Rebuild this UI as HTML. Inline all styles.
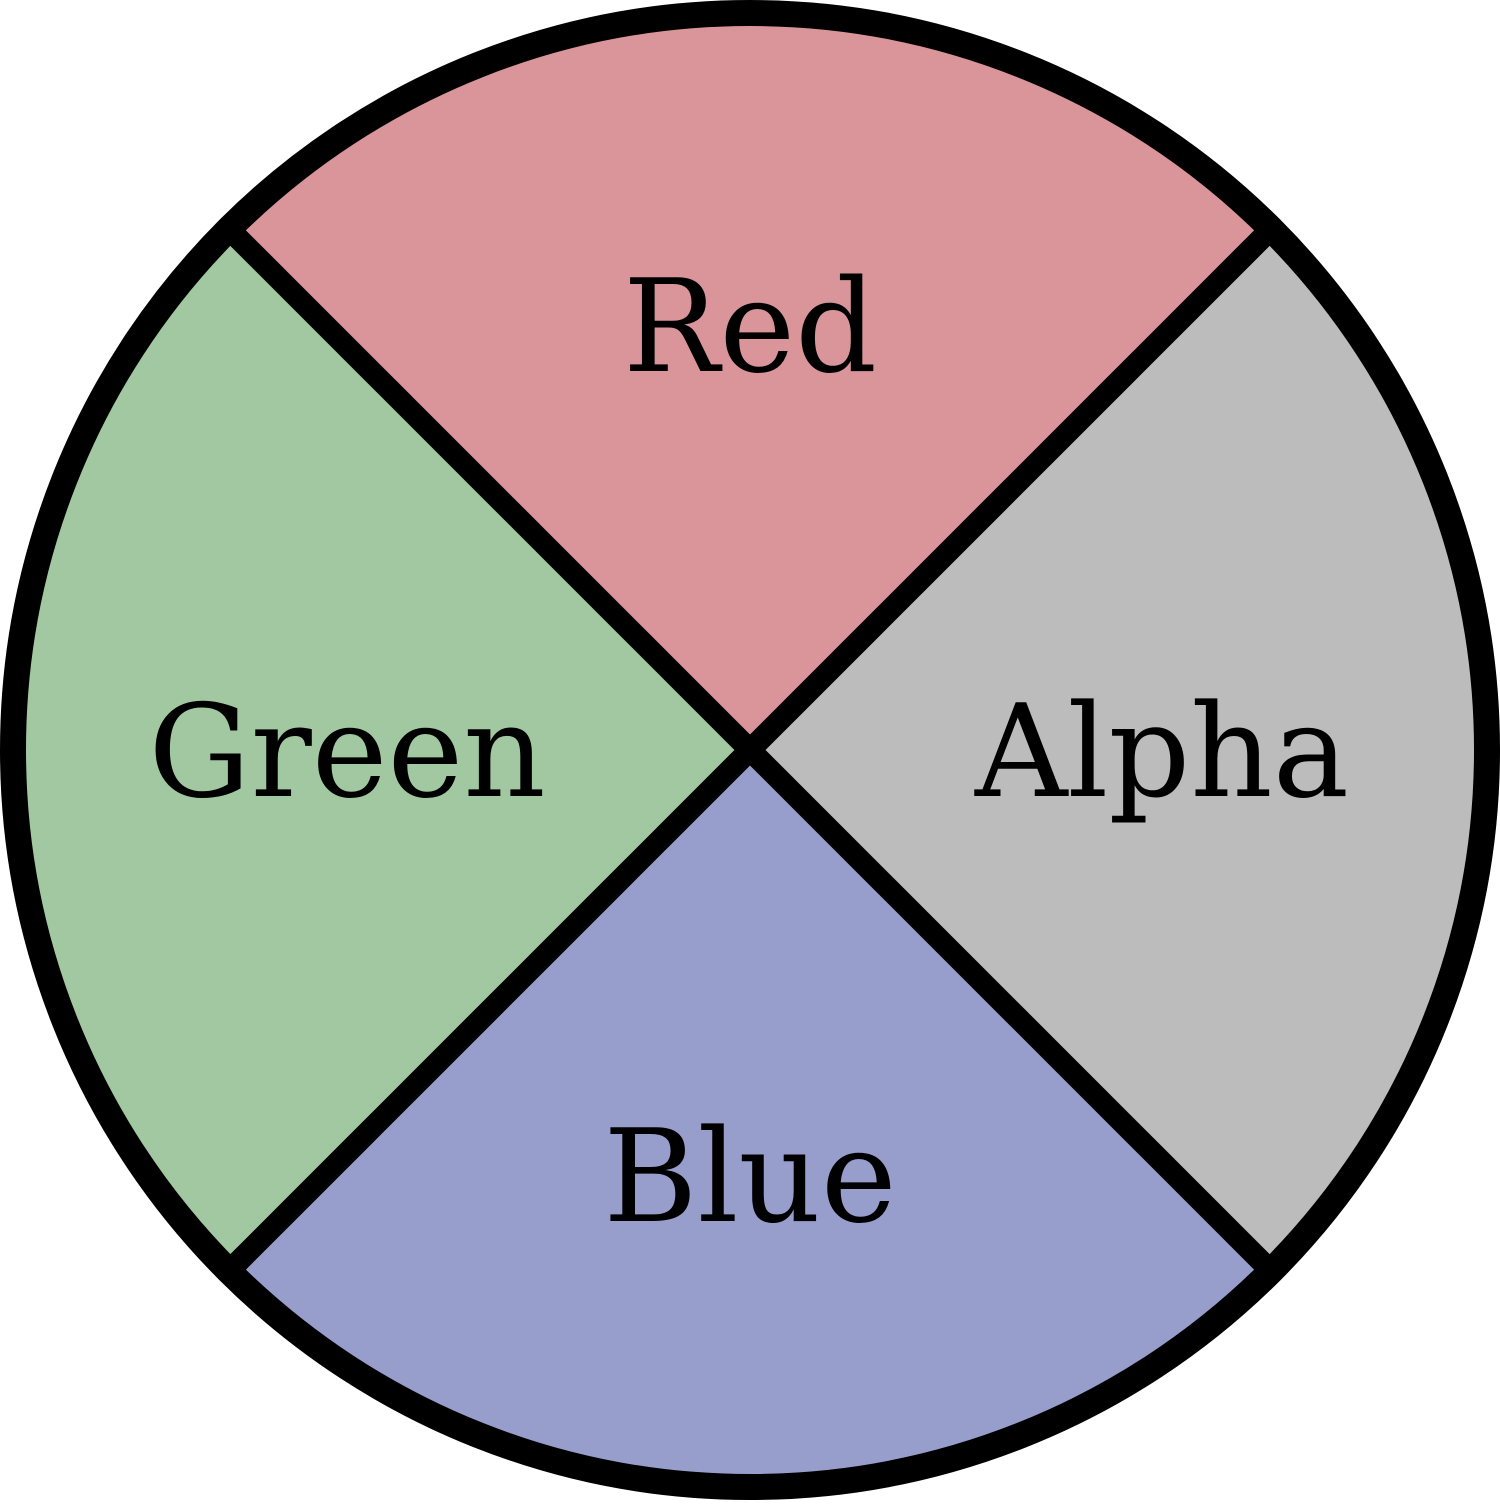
<!DOCTYPE html>
<html><head><style>html,body{margin:0;padding:0;background:#fff}</style></head>
<body>
<svg width="1500" height="1500" viewBox="0 0 1500 1500" xmlns="http://www.w3.org/2000/svg">
<g transform="translate(750,750)">
<path d="M0,0 L-521,-521 A737,737 0 0 1 521,-521 Z" fill="#d99599"/>
<path d="M0,0 L521,-521 A737,737 0 0 1 521,521 Z" fill="#bcbcbc"/>
<path d="M0,0 L521,521 A737,737 0 0 1 -521,521 Z" fill="#979ecb"/>
<path d="M0,0 L-521,521 A737,737 0 0 1 -521,-521 Z" fill="#a1c8a1"/>
<line x1="-521" y1="-521" x2="521" y2="521" stroke="#000" stroke-width="22"/>
<line x1="521" y1="-521" x2="-521" y2="521" stroke="#000" stroke-width="22"/>
<circle cx="0" cy="0" r="737" fill="none" stroke="#000" stroke-width="26"/>
</g>
<g font-family="'DejaVu Serif','Liberation Serif',serif" font-size="128" text-anchor="middle" fill="#000">
<text x="750" y="371">Red</text>
<text x="347" y="796">Green</text>
<text x="1162" y="796">Alpha</text>
<text x="750" y="1221">Blue</text>
</g>
</svg>
</body></html>
